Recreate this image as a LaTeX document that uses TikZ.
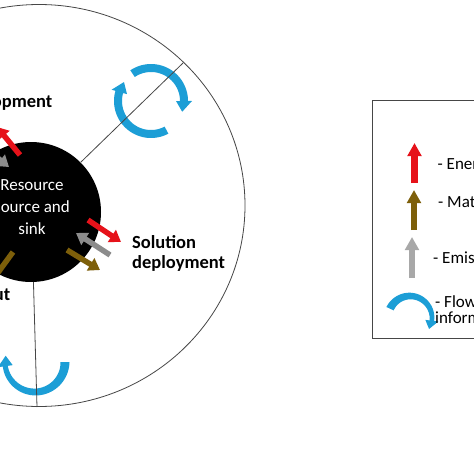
\documentclass[tikz,border=0pt]{standalone}
\usepackage{fontspec}
\setmainfont{Carlito}
\usetikzlibrary{arrows.meta}
\definecolor{cred}{RGB}{230,18,26}
\definecolor{cbrown}{RGB}{125,95,10}
\definecolor{cgray}{RGB}{140,140,140}
\definecolor{lgray}{RGB}{168,168,168}
\definecolor{cblue}{RGB}{28,158,214}
\definecolor{cline}{RGB}{70,70,70}
\colorlet{arcc}{cblue}
% tapered curved arrow: cx, cy, r, start angle, end angle of body, width at start, width at end, head width, head extent (deg)
\newcommand{\arcarrow}[9]{%
  \fill[arcc] plot[domain=0:1,samples=40,variable=\t]
    ({#1+(#3+0.5*(#6+(#7-#6)*\t))*cos(#4+(#5-#4)*\t)},{#2+(#3+0.5*(#6+(#7-#6)*\t))*sin(#4+(#5-#4)*\t)})
    -- ({#1+(#3+0.5*#8)*cos(#5)},{#2+(#3+0.5*#8)*sin(#5)})
    -- ({#1+#3*cos(#5+#9)},{#2+#3*sin(#5+#9)})
    -- ({#1+(#3-0.5*#8)*cos(#5)},{#2+(#3-0.5*#8)*sin(#5)})
    -- plot[domain=0:1,samples=40,variable=\t]
    ({#1+(#3-0.5*(#7+(#6-#7)*\t))*cos(#5+(#4-#5)*\t)},{#2+(#3-0.5*(#7+(#6-#7)*\t))*sin(#5+(#4-#5)*\t)})
    -- cycle;}
\begin{document}
\begin{tikzpicture}[x=1pt,y=-1pt,
  blockarrow/.style={line width=5.5pt,-{Triangle[width=14pt,length=11pt]}},
  legarrow/.style={line width=6.5pt,-{Triangle[width=13.5pt,length=13pt]}},
  rim/.style={draw=cline,line width=0.8pt},
  lbl/.style={font=\fontsize{18.5}{20}\selectfont\bfseries,inner sep=0pt},
  legtxt/.style={font=\fontsize{17}{16.5}\selectfont,inner sep=0pt}]
\useasboundingbox (0,0) rectangle (474,474);
\clip (0,0) rectangle (474,474);
\fill[white] (0,0) rectangle (474,474);

% outer wheel
\draw[rim] (39,205.5) ellipse [x radius=206, y radius=201];

% central resource node
\node[circle,fill=black,minimum size=140pt,inner sep=0pt] (core) at (31,212) {};

% blue information-flow arrows
\arcarrow{151}{101}{33}{236}{360}{8}{8}{16}{19}
\arcarrow{151}{101}{33}{62}{196}{8}{8}{16}{19}
\arcarrow{35}{362}{30}{0}{172}{9}{5}{15}{20}

% sector dividers
\coordinate (rim1) at (183,63);
\coordinate (rim2) at (37,407);
\draw[rim] (core.45) -- (rim1);
\draw[rim] (core.-88) -- (rim2);

% flow arrows at the core
\draw[blockarrow,cred] (88,220) -- (121,242);
\draw[blockarrow,cgray] (110,255) -- (76,233);
\draw[blockarrow,cbrown] (67,250) -- (100,270);
\draw[blockarrow,cred] (20,155) -- (-3,127);
\draw[blockarrow,cgray] (-25,140) -- (9,167);
\draw[blockarrow,cbrown] (13,252) -- (-22,300);

% texts
\node[text=white,align=center,font=\fontsize{17}{22}\selectfont,inner sep=0pt] (coretext) at (32,207.2) {Resource\\source and\\sink};
\node[lbl,align=left,anchor=west] (solution) at (132,253.5) {Solution\\deployment};
\node[lbl,anchor=base east] (devel) at (52.5,107.5) {Development};
\node[lbl,anchor=base east] (input) at (10.5,300) {Input};

% legend
\node[draw=cline,line width=0.8pt,anchor=north west,minimum width=130pt,minimum height=238pt,inner sep=0pt] (legend) at (372,100) {};
\draw[legarrow,cred] (414.5,183) -- (414.5,143);
\draw[legarrow,cbrown] (414,230) -- (414,190);
\draw[legarrow,lgray] (412,278) -- (412,237);
\arcarrow{410}{318}{22}{205}{367}{8}{4.5}{13}{23}
\node[legtxt,anchor=base west] (lenergy) at (437.5,169) {- Energy};
\node[legtxt,anchor=base west] (lmat) at (438,207) {- Material};
\node[legtxt,anchor=base west] (lemi) at (433,263) {- Emissions};
\node[legtxt,anchor=west,align=left] (lflow) at (435,309.5) {- Flow of\\information};
\end{tikzpicture}
\end{document}
